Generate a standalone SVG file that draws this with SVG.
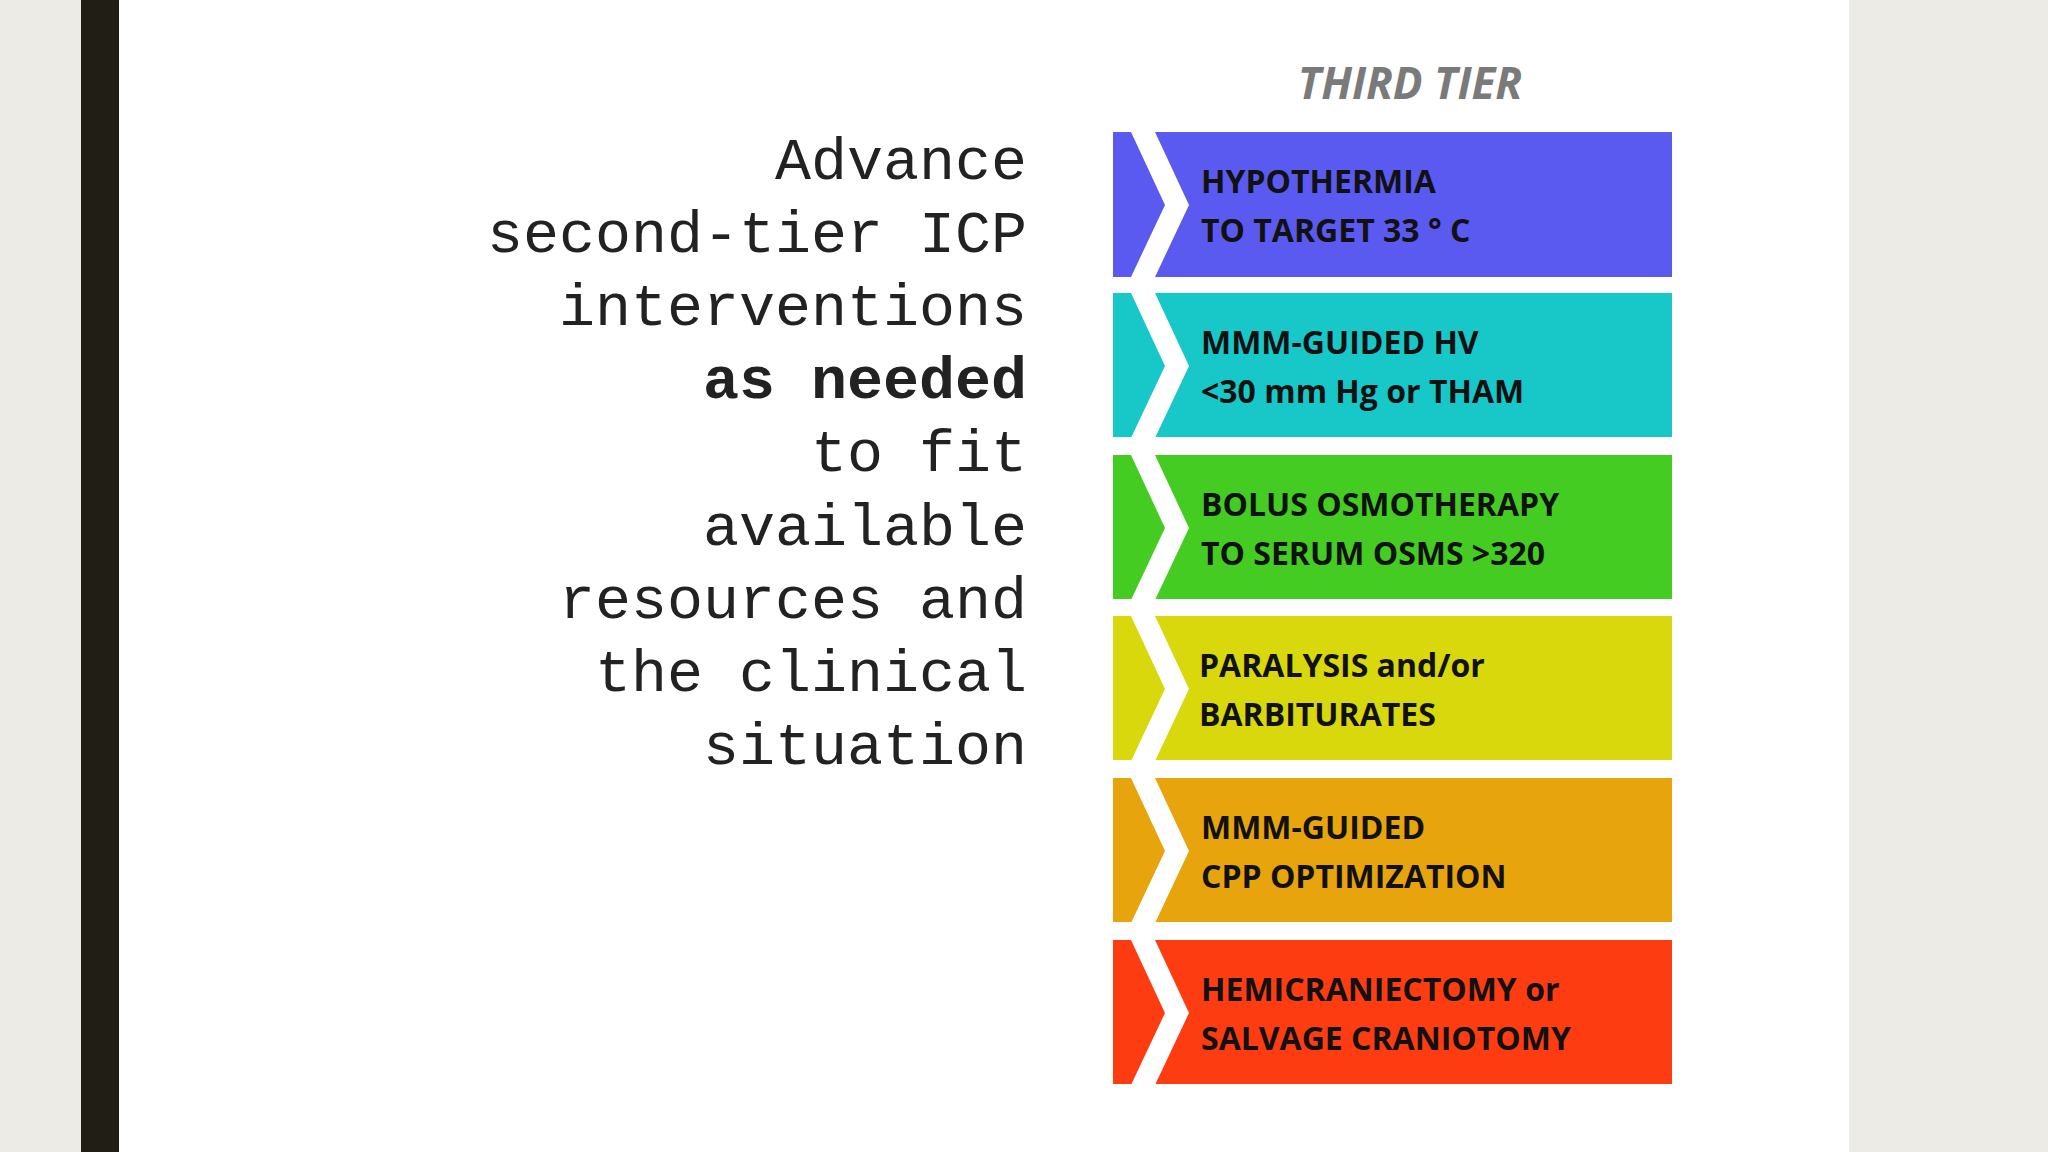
<svg xmlns="http://www.w3.org/2000/svg" width="2048" height="1152" viewBox="0 0 2048 1152">
<style>
.m{font-family:"Liberation Mono",monospace;font-size:60px;fill:#222;text-anchor:end}
.b{font-family:"Open Sans","Liberation Sans",sans-serif;font-weight:bold;font-size:32px;fill:#111}
.w{fill:#fff}
</style>
<defs>
<polygon id="chev" points="1131,0 1155,0 1189,73 1155,145 1131,145 1165,73"/>
</defs>
<rect width="2048" height="1152" fill="#edebe6"/>
<rect x="119" width="1730" height="1152" fill="#fff"/>
<rect x="81" width="38" height="1152" fill="#211e16"/>
<g id="leftText">
<text class="m" x="1027" y="179">Advance</text>
<text class="m" x="1027" y="252">second-tier ICP</text>
<text class="m" x="1027" y="325">interventions</text>
<text class="m" x="1027" y="398" font-weight="bold" fill="#000">as needed</text>
<text class="m" x="1027" y="471">to fit</text>
<text class="m" x="1027" y="545">available</text>
<text class="m" x="1027" y="618">resources and</text>
<text class="m" x="1027" y="691">the clinical</text>
<text class="m" x="1027" y="764">situation</text>
</g>
<text x="1410" y="99" text-anchor="middle" font-family="Open Sans,Liberation Sans,sans-serif" font-weight="bold" font-style="italic" font-size="44" fill="#7a7a7a">THIRD TIER</text>
<g id="n1" transform="translate(0,132)"><rect x="1113" width="559" height="145" fill="#5a5af0"/><use href="#chev" class="w"/><text class="b" x="1201" y="61">HYPOTHERMIA</text><text class="b" x="1201" y="110">TO TARGET 33 ° C</text></g>
<g id="n2" transform="translate(0,293)"><rect x="1113" width="559" height="144" fill="#18c8c8"/><use href="#chev" class="w"/><text class="b" x="1201" y="61">MMM-GUIDED HV</text><text class="b" x="1201" y="110">&lt;30 mm Hg or THAM</text></g>
<g id="n3" transform="translate(0,455)"><rect x="1113" width="559" height="144" fill="#44cc22"/><use href="#chev" class="w"/><text class="b" x="1201" y="61">BOLUS OSMOTHERAPY</text><text class="b" x="1201" y="110">TO SERUM OSMS &gt;320</text></g>
<g id="n4" transform="translate(0,616)"><rect x="1113" width="559" height="144" fill="#d8d80c"/><use href="#chev" class="w"/><text class="b" x="1199" y="61">PARALYSIS and/or</text><text class="b" x="1199" y="110">BARBITURATES</text></g>
<g id="n5" transform="translate(0,778)"><rect x="1113" width="559" height="144" fill="#e8a40c"/><use href="#chev" class="w"/><text class="b" x="1201" y="61">MMM-GUIDED</text><text class="b" x="1201" y="110">CPP OPTIMIZATION</text></g>
<g id="n6" transform="translate(0,940)"><rect x="1113" width="559" height="144" fill="#fe3c12"/><use href="#chev" class="w"/><text class="b" x="1201" y="61">HEMICRANIECTOMY or</text><text class="b" x="1201" y="110">SALVAGE CRANIOTOMY</text></g>
<g id="connectors"/>
</svg>
